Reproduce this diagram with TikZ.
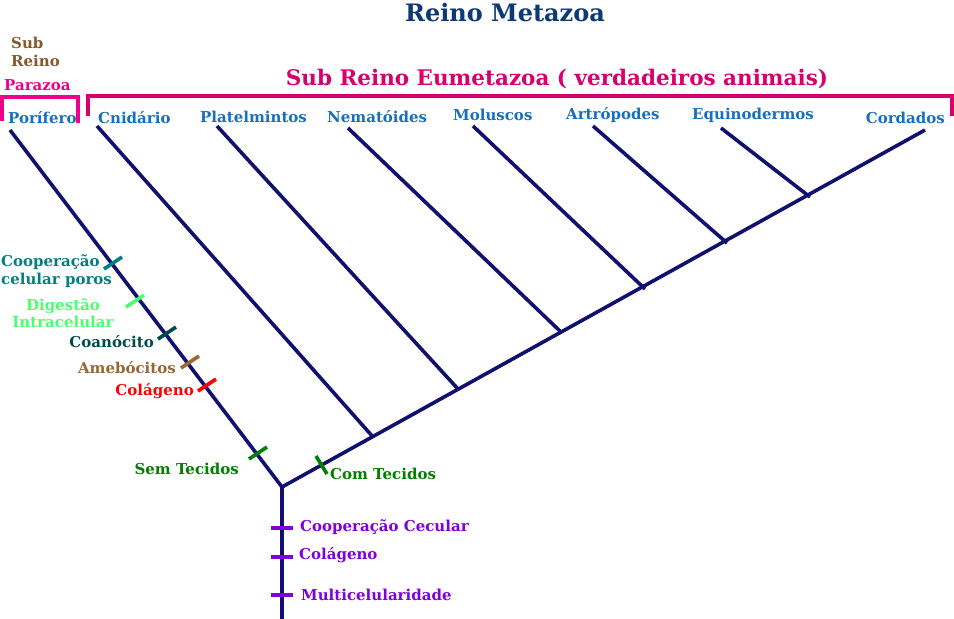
\documentclass[tikz,border=0pt]{standalone}
\usepackage{fontspec}
\setmainfont{DejaVu Serif}
\begin{document}
\begin{tikzpicture}[x=1pt,y=-1pt,
  tick/.style={line width=3.6pt},
  tx/.style={text=cyan!50!blue, font=\bfseries\fontsize{15}{16}\selectfont, inner sep=0},
  lb/.style={font=\bfseries\fontsize{15}{17.5}\selectfont, inner sep=0, align=center}]
\useasboundingbox (0,0) rectangle (954,619);
\definecolor{navy}{RGB}{16,16,112}
\definecolor{crim}{RGB}{214,0,111}
\definecolor{purp}{RGB}{128,0,220}
\definecolor{ttl}{RGB}{11,58,117}
\tikzset{br/.style={draw=navy, line width=3.6pt}, brk/.style={draw=crim, line width=3.6pt}}
\coordinate (root) at (282,487);
\coordinate (bot) at (282,619);
\coordinate (por) at (10,130);
\coordinate (cor) at (925,130);
\coordinate (j1) at (373,437);\coordinate (t1) at (97,126);
\coordinate (j2) at (458,389);\coordinate (t2) at (217,126);
\coordinate (j3) at (562,333);\coordinate (t3) at (348,128);
\coordinate (j4) at (645,289);\coordinate (t4) at (473,126);
\coordinate (j5) at (727,243);\coordinate (t5) at (593,126);
\coordinate (j6) at (810,197);\coordinate (t6) at (721,128);
\draw[br] (root)--(bot);
\draw[br] (root)--(por);
\draw[br] (root)--(cor);
\foreach \i in {1,...,6}{\draw[br] (t\i)--(j\i);}
\foreach \x/\y/\c in {113/263/teal, 135/301/green!80!cyan!70, 167/333/teal!60!black, 190/362/brown!80!black, 207/385/red, 258/453/green!50!black}{
  \draw[tick,\c] (\x-9,\y+6)--(\x+9,\y-6);}
\draw[tick,green!50!black] (316,456)--(327,474);
\foreach \y in {528,557,595}{\draw[tick,purp] (271,\y)--(293,\y);}
\node[font=\bfseries\fontsize{24}{26}\selectfont, text=ttl] at (505,13) {Reino Metazoa};
\node[font=\bfseries\fontsize{21.5}{24}\selectfont, text=crim] at (557,79) {Sub Reino Eumetazoa ( verdadeiros animais)};
\node[lb, text=brown!70!black, align=left, anchor=west] at (11,52) {Sub\\Reino};
\node[lb, text=magenta, anchor=west] at (4,85) {Parazoa};
\draw[brk,draw=magenta] (2,121)--(2,97)--(78,97)--(78,123);
\draw[brk] (88,116)--(88,96)--(952,96)--(952,116);
\node[tx,anchor=west] at (8,118) {Porífero};
\node[tx,anchor=west] at (98,118) {Cnidário};
\node[tx,anchor=west] at (200,117) {Platelmintos};
\node[tx,anchor=west] at (327,117) {Nematóides};
\node[tx,anchor=west] at (453,115) {Moluscos};
\node[tx,anchor=west] at (566,115) {Artrópodes};
\node[tx,anchor=west] at (692,115) {Equinodermos};
\node[tx,anchor=east] at (945,118) {Cordados};
\node[lb,text=teal,align=left,anchor=west] at (1,271) {Cooperação\\celular poros};
\node[lb,text=green!80!cyan!70] at (63,313) {Digestão\\Intracelular};
\node[lb,text=teal!60!black,anchor=east] at (154,342) {Coanócito};
\node[lb,text=brown!80!black,anchor=east] at (176,368) {Amebócitos};
\node[lb,text=red,anchor=east] at (194,391) {Colágeno};
\node[lb,text=green!50!black,anchor=east] at (239,469) {Sem Tecidos};
\node[lb,text=green!50!black,anchor=west] at (330,474) {Com Tecidos};
\node[lb,text=purp,anchor=west] at (300,527) {Cooperação Cecular};
\node[lb,text=purp,anchor=west] at (299,555) {Colágeno};
\node[lb,text=purp,anchor=west] at (301,595) {Multicelularidade};
\end{tikzpicture}
\end{document}
